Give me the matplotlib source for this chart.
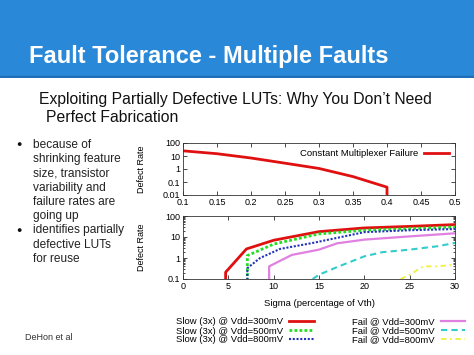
import numpy as np
import matplotlib
matplotlib.use("Agg")
import matplotlib.pyplot as plt
from matplotlib.ticker import LogLocator, NullFormatter, FixedLocator

plt.rcParams['font.family'] = ['Liberation Sans', 'DejaVu Sans']

W, H = 474, 355

# --- data ---
title = "Fault Tolerance - Multiple Faults"
subtitle = ["Exploiting Partially Defective LUTs: Why You Don\u2019t Need",
            "Perfect Fabrication"]
bullets = [["because of", "shrinking feature", "size, transistor", "variability and",
            "failure rates are", "going up"],
           ["identifies partially", "defective LUTs", "for reuse"]]

# top chart: constant multiplexer failure
mux_sigma = [0.1, 0.15, 0.2, 0.25, 0.3, 0.35, 0.4, 0.4]
mux_rate = [25, 15, 7, 2.8, 1.1, 0.26, 0.04, 1e-4]

# bottom chart: sigma (% of Vth) vs defect rate
slow300_x = [4.7, 4.7, 7, 10, 15, 20, 25, 30]
slow300_y = [1e-3, 0.21, 2.7, 7, 18, 27, 32, 39]
slow500_x = [7.1, 7.1, 10, 15, 20, 25, 30]
slow500_y = [1e-3, 1.3, 4.6, 14, 21, 25, 30]
slow800_x = [7.1, 7.1, 8.5, 10.7, 14.3, 20, 25, 30]
slow800_y = [1e-3, 0.33, 1.0, 2.7, 5.2, 17, 21, 24]
fail300_x = [9.5, 9.5, 12, 15, 17, 20, 25, 30]
fail300_y = [1e-3, 0.4, 1.4, 2.5, 5, 7.5, 10.7, 15]
fail500_x = [14.3, 15, 17, 20, 22, 25, 28, 30]
fail500_y = [0.1, 0.16, 0.37, 1.2, 1.9, 2.5, 3.6, 5.2]
fail800_x = [24, 25, 26.5, 28, 30]
fail800_y = [0.1, 0.16, 0.4, 0.4, 0.48]

series = [
    ("Slow (3x) @ Vdd=300mV", slow300_x, slow300_y, "#e01010", "-", 2.0),
    ("Slow (3x) @ Vdd=500mV", slow500_x, slow500_y, "#22dd22", (0, (1, 0.8)), 2.0),
    ("Slow (3x) @ Vdd=800mV", slow800_x, slow800_y, "#2233bb", (0, (1, 0.8)), 1.5),
    ("Fail @ Vdd=300mV", fail300_x, fail300_y, "#e080e0", "-", 1.6),
    ("Fail @ Vdd=500mV", fail500_x, fail500_y, "#33cccc", (0, (3, 2)), 1.5),
    ("Fail @ Vdd=800mV", fail800_x, fail800_y, "#f0f040", (0, (3, 2, 1, 2)), 1.3),
]

fig = plt.figure(figsize=(W / 100, H / 100), dpi=100)
fig.patch.set_facecolor("white")


def px(x, y):
    return x / W, 1 - y / H


# title bar
bar = fig.add_axes([0, 1 - 78 / H, 1, 78 / H])
bar.set_axis_off()
bar.add_patch(plt.Rectangle((0, 0), 1, 1, color="#2a88d8", transform=bar.transAxes))
bar.add_patch(plt.Rectangle((0, 0), 1, 0.03, color="#1f6fb8", transform=bar.transAxes))
fig.text(*px(29, 56), title, color="white", fontsize=17, fontweight="bold", va="center")

fig.text(*px(39, 99), subtitle[0], fontsize=11.3, va="center", color="#111111")
fig.text(*px(46, 117), subtitle[1], fontsize=11.3, va="center", color="#111111")

y = 145
for group in bullets:
    fig.text(*px(19, y), "\u25cf", fontsize=6.5, va="center", ha="center", color="#111111")
    for line in group:
        fig.text(*px(33, y), line, fontsize=8.6, va="center", color="#222222")
        y += 14.25

fig.text(*px(25, 337), "DeHon et al", fontsize=6.5, va="center", color="#333333")


def style(ax):
    ax.set_yscale("log")
    ax.tick_params(which="both", direction="in", top=True, right=True,
                   labelsize=6.5, pad=2, width=0.5)
    ax.tick_params(which="major", length=3)
    ax.tick_params(which="minor", length=1.5)
    for s in ax.spines.values():
        s.set_linewidth(0.6)
        s.set_color("#333333")
    ax.yaxis.set_minor_locator(LogLocator(base=10, subs=np.arange(2, 10)))
    ax.yaxis.set_minor_formatter(NullFormatter())


# top chart
ax1 = fig.add_axes([183 / W, 1 - 195 / H, 272 / W, 52 / H])
style(ax1)
ax1.plot(mux_sigma, mux_rate, color="#e01010", lw=2, label="Constant Multiplexer Failure")
ax1.set_xlim(0.1, 0.5)
ax1.set_ylim(0.01, 100)
ax1.set_xticks([0.1, 0.15, 0.2, 0.25, 0.3, 0.35, 0.4, 0.45, 0.5])
ax1.set_xticklabels(["0.1", "0.15", "0.2", "0.25", "0.3", "0.35", "0.4", "0.45", "0.5"])
ax1.set_yticks([0.01, 0.1, 1, 10, 100])
ax1.set_yticklabels(["0.01", "0.1", "1", "10", "100"])
ax1.set_ylabel("Defect Rate", fontsize=6.5)
ax1.yaxis.set_label_coords(-0.135, 0.5)
ax1.legend(loc="upper right", frameon=False, markerfirst=False, fontsize=6.8,
           handlelength=2.6, borderaxespad=0.25, handletextpad=0.6)

# bottom chart
ax2 = fig.add_axes([183 / W, 1 - 279 / H, 272 / W, 63 / H])
style(ax2)
handles = []
for label, xs, ys, color, ls, lw in series:
    h, = ax2.plot(xs, ys, color=color, ls=ls, lw=lw, label=label)
    handles.append(h)
ax2.set_xlim(0, 30)
ax2.set_ylim(0.1, 100)
ax2.set_xticks([0, 5, 10, 15, 20, 25, 30])
ax2.xaxis.set_minor_locator(FixedLocator([]))
ax2.set_yticks([0.1, 1, 10, 100])
ax2.set_yticklabels(["0.1", "1", "10", "100"])
ax2.set_ylabel("Defect Rate", fontsize=6.5)
ax2.yaxis.set_label_coords(-0.135, 0.5)
ax2.set_xlabel("Sigma (percentage of Vth)", fontsize=6.8)
ax2.xaxis.set_label_coords(0.5, -0.31)

fig.legend(handles=handles, loc="upper left", bbox_to_anchor=px(167, 309), ncol=2,
           frameon=False, markerfirst=False, fontsize=6.8, handlelength=2.6,
           labelspacing=0.0, columnspacing=4.0, handletextpad=0.7)

fig.savefig("out.png", dpi=100)
